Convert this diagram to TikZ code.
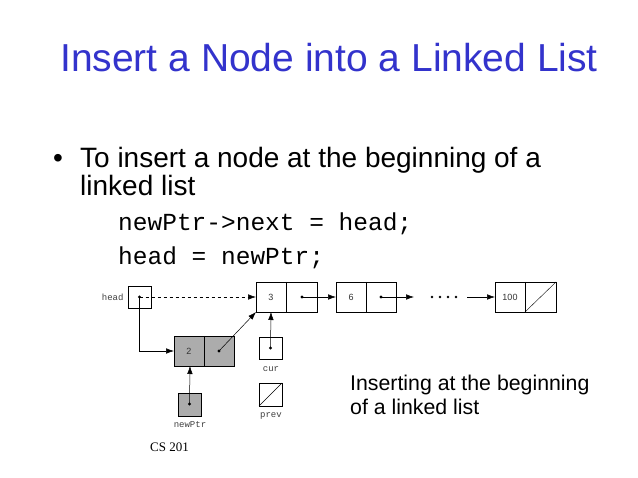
\documentclass[tikz,border=0pt]{standalone}
\usepackage{fontspec}
\setmainfont{Liberation Sans}
\newfontfamily\cour{Liberation Mono}
\newfontfamily\tms{Liberation Serif}
\usetikzlibrary{arrows.meta}
\definecolor{ttl}{RGB}{51,51,204}
\begin{document}
\begin{tikzpicture}[x=1pt,y=-1pt,
  cell/.style={draw,line width=0.6pt},
  gcell/.style={draw,line width=0.6pt,fill=gray!65},
  arr/.style={-{Latex[length=8pt,width=5.5pt]},line width=0.5pt},
  dotm/.style={circle,fill,inner sep=1.1pt},
  lbl/.style={font=\cour\fontsize{9}{10}\selectfont,text=black!75},
  num/.style={font=\fontsize{9}{10}\selectfont,text=black!80}]
\useasboundingbox[fill=white] (0,0) rectangle (638,478);
\node[anchor=base west,text=ttl,font=\fontsize{39}{44}\selectfont,inner sep=0] (title) at (60,72) {Insert a Node into a Linked List};
\node[anchor=base west,font=\fontsize{28}{32}\selectfont,inner sep=0] (b1) at (53,168) {\textbullet};
\node[anchor=base west,font=\fontsize{28}{32}\selectfont,inner sep=0] (t1) at (80,168) {To insert a node at the beginning of a};
\node[anchor=base west,font=\fontsize{28}{32}\selectfont,inner sep=0] (t2) at (80,196) {linked list};
\node[anchor=base west,font=\cour\fontsize{24.5}{28}\selectfont,inner sep=0] (c1) at (118,231) {newPtr->next = head;};
\node[anchor=base west,font=\cour\fontsize{24.5}{28}\selectfont,inner sep=0] (c2) at (118,265) {head = newPtr;};
\node[anchor=base west,font=\fontsize{21.3}{24}\selectfont,inner sep=0] (cap1) at (350,391) {Inserting at the beginning};
\node[anchor=base west,font=\fontsize{21.3}{24}\selectfont,inner sep=0] (cap2) at (350,415) {of a linked list};
\node[anchor=base west,font=\tms\fontsize{13}{15}\selectfont,inner sep=0] (cs) at (150,452) {CS 201};
% head
\draw[cell] (128,286) rectangle (151,308);
\node[lbl,anchor=east] (hl) at (127,297) {head};
\node[dotm] (hd) at (139.5,297) {};
% node 3
\draw[cell] (256,282) rectangle (317,312); \draw (286,282)--(286,312);
\node[num] (n3) at (271,297) {3};
\coordinate (n3l) at (256,297); \coordinate (n3bl) at (256,312); \coordinate (n3b) at (271,312);
\node[dotm] (p3) at (302,297) {};
% node 6
\draw[cell] (336,282) rectangle (396,312); \draw (366,282)--(366,312);
\node[num] (n6) at (351,297) {6};
\coordinate (n6l) at (336,297);
\node[dotm] (p6) at (381,297) {};
\coordinate (e6) at (414,297);
\foreach \i [count=\k] in {432,440,448,456} \node[circle,fill,inner sep=0.9pt] (d\k) at (\i,297) {};
\coordinate (sd) at (467,297);
% node 100
\draw[cell] (495,282) rectangle (556,312); \draw (525,282)--(525,312);
\draw (525,312)--(556,282);
\node[num] (n100) at (510,297) {100};
\coordinate (n100l) at (495,297);
% node 2
\draw[gcell] (174,336) rectangle (234,366); \draw (204,336)--(204,366);
\node[num] (n2) at (189,351) {2};
\coordinate (n2l) at (174,351); \coordinate (n2b) at (190,366);
\node[dotm] (p2) at (219,351) {};
% newPtr
\draw[gcell] (178,393) rectangle (201,416);
\node[dotm] (np) at (189.5,404) {};
\node[lbl] (npl) at (190,425) {newPtr};
% cur
\draw[cell] (259,337) rectangle (282,359);
\node[dotm] (cu) at (270.5,348) {};
\node[lbl] (cul) at (271,369) {cur};
% prev
\draw[cell] (259,383) rectangle (282,406); \draw (259,406)--(282,383);
\node[lbl] (pvl) at (271,416) {prev};
% arrows
\draw[arr,dashed] (hd.center) -- (n3l);
\draw[arr] (hd.center) |- (n2l);
\draw[arr] (p2.center) -- (n3bl);
\draw[arr] (p3.center) -- (n6l);
\draw[arr] (p6.center) -- (e6);
\draw[arr] (sd) -- (n100l);
\draw[arr] (cu.center) -- (n3b);
\draw[arr] (np.center) -- (n2b);
\end{tikzpicture}
\end{document}
